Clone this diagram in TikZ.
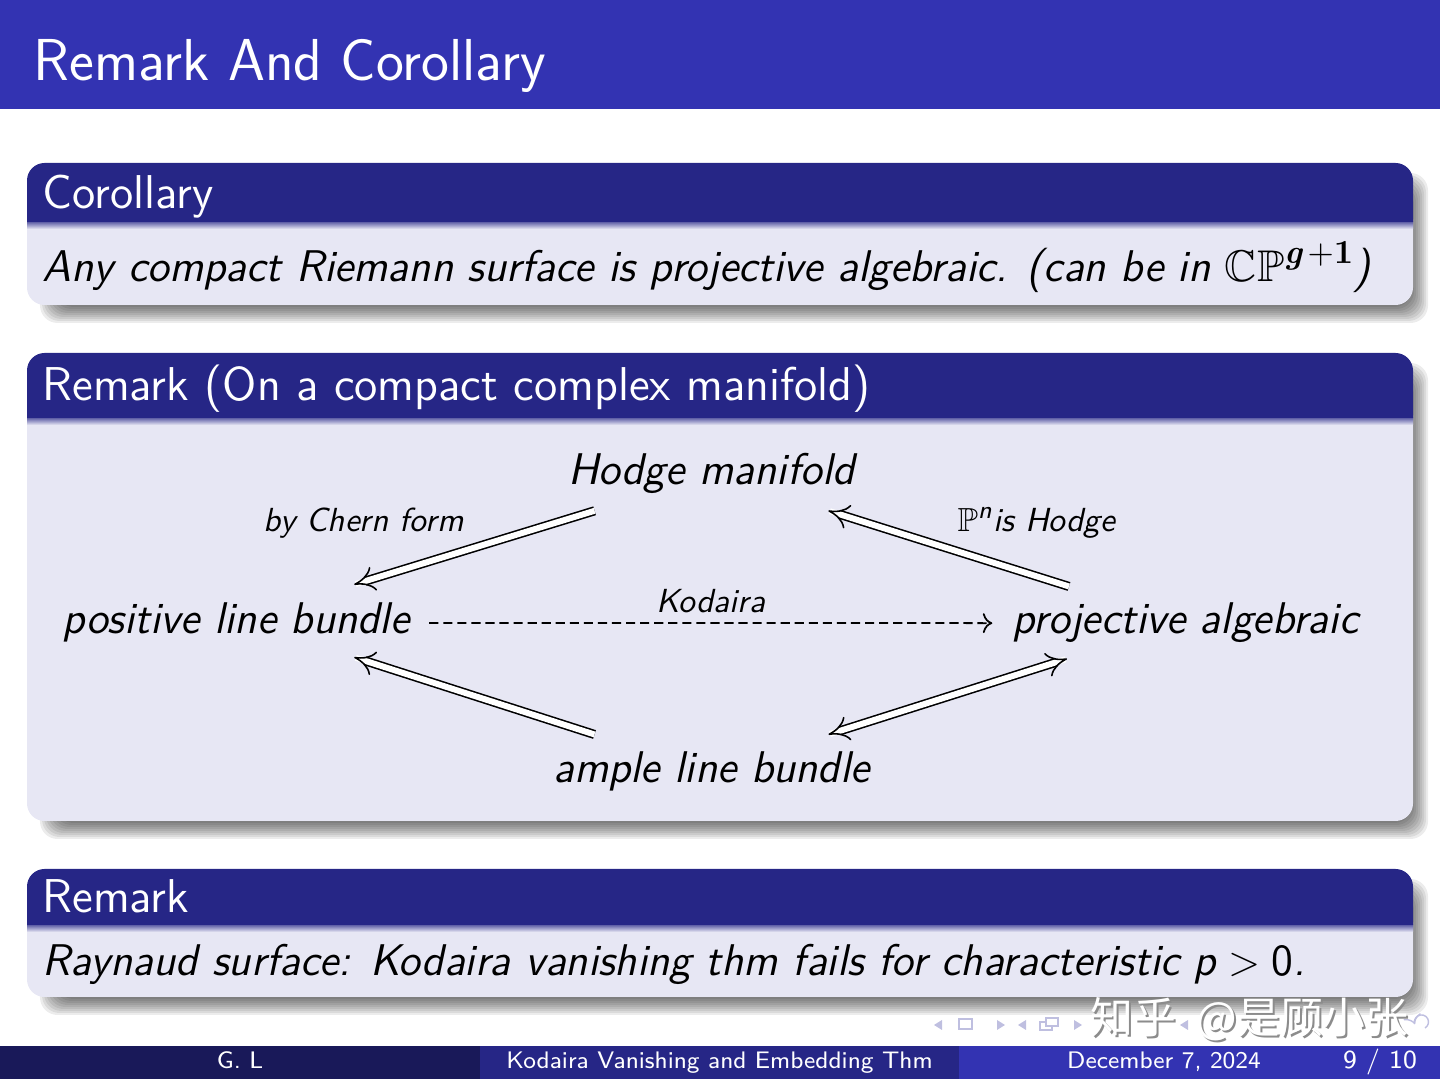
\documentclass[tikz,border=0pt]{standalone}
\usepackage{amssymb}
\usepackage{fontspec}
\newfontfamily\cjkfont{Noto Sans CJK SC}
\usetikzlibrary{arrows.meta,calc}

\definecolor{barblue}{rgb}{0.2,0.2,0.7}
\definecolor{headblue}{rgb}{0.15,0.15,0.525}
\definecolor{darkblue}{rgb}{0.1,0.1,0.35}
\definecolor{bodyblue}{rgb}{0.905,0.905,0.955}
\definecolor{navblue}{rgb}{0.75,0.75,0.88}

\tikzset{
  headtext/.style={anchor=base west, inner sep=0pt, text=white, font=\sffamily\fontsize{13.5}{16}\selectfont},
  bodytext/.style={anchor=base west, inner sep=0pt, font=\sffamily\itshape\fontsize{12.63}{15}\selectfont},
  cornertext/.style={bodytext, anchor=base},
  edgetext/.style={anchor=base west, inner sep=0pt, font=\sffamily\itshape\fontsize{9.5}{11}\selectfont},
  foottext/.style={anchor=base, inner sep=0pt, text=white, font=\sffamily\fontsize{6.8}{9}\selectfont},
  dblshaft/.style={double, double distance=1.7pt, line width=0.45pt, shorten >=3.2pt},
  dblhead/.style={white, line width=1.7pt, -{Computer Modern Rightarrow[black, length=5.8pt, width=7pt, line width=0.45pt]}},
  navmark/.style={navblue, line width=0.4pt},
}

\begin{document}
\begin{tikzpicture}

\useasboundingbox (0,0) rectangle (14.4,10.8);

% Title bar
\fill[barblue] (0,9.71) rectangle (14.4,10.8);
\node[headtext, font=\sffamily\fontsize{16.84}{20}\selectfont] (title) at (0.33,9.99) {Remark And Corollary};

% Blocks: shadow, body, head
\foreach \ytop/\ymid/\ybot in {9.17/8.58/7.75, 7.27/6.62/2.59, 2.11/1.55/0.83} {
  \foreach \blur in {0,0.02,...,0.18} {
    \fill[black, opacity=0.075, rounded corners=5pt]
      (0.40+\blur,\ybot-0.18+\blur) rectangle (14.28-\blur,\ytop-0.10-\blur);
  }
  \fill[bodyblue, rounded corners=5pt] (0.27,\ybot) rectangle (14.13,\ymid+0.2);
  \shade[top color=headblue!70!bodyblue, bottom color=bodyblue] (0.27,\ymid-0.07) rectangle (14.13,\ymid);
  \fill[headblue] (0.27,\ymid) [rounded corners=5pt] -- (0.27,\ytop) -- (14.13,\ytop) [sharp corners] -- (14.13,\ymid) -- cycle;
}

% Corollary
\node[headtext] (corhead) at (0.42,8.71) {Corollary};
\node[bodytext] (corbody) at (0.42,7.98) {Any compact Riemann surface is projective algebraic. (can be in $\mathbb{C}\mathbb{P}$\raisebox{5.2pt}{\rmfamily\fontsize{9.6}{10}\selectfont\bfseries g\,\mdseries\upshape+\bfseries 1})};

% Remark with diagram
\node[headtext] (remhead) at (0.42,6.79) {Remark (On a compact complex manifold)};
\node[cornertext] (hodge) at (7.115,5.95) {Hodge manifold};
\node[bodytext] (positive) at (0.62,4.46) {positive line bundle};
\node[bodytext] (projective) at (10.12,4.46) {projective algebraic};
\node[cornertext] (ample) at (7.115,2.97) {ample line bundle};

% Arrow ends
\coordinate (hodgeleft) at ([shift={(0.27,-0.16)}]hodge.south west);
\coordinate (hodgeright) at ([shift={(-0.27,-0.16)}]hodge.south east);
\coordinate (posup) at ([shift={(-0.56,0.18)}]positive.north east);
\coordinate (posdown) at ([shift={(-0.56,-0.14)}]positive.south east);
\coordinate (projup) at ([shift={(0.57,0.16)}]projective.north west);
\coordinate (projdown) at ([shift={(0.55,-0.15)}]projective.south west);
\coordinate (ampleleft) at ([shift={(0.42,0.17)}]ample.north west);
\coordinate (ampleright) at ([shift={(-0.42,0.17)}]ample.north east);

\draw[dblshaft] (hodgeleft) -- (posup);
\draw[dblshaft] (projup) -- (hodgeright);
\draw[dblshaft] (ampleleft) -- (posdown);
\draw[dblshaft, shorten <=3.2pt] (ampleright) -- (projdown);

\foreach \from/\to in {hodgeleft/posup, projup/hodgeright, ampleleft/posdown, ampleright/projdown, projdown/ampleright} {
  \draw[dblhead] ($(\to)!3.4pt!(\from)$) -- (\to);
}

\draw[line width=0.5pt, dash pattern=on 2.6pt off 1.4pt, -{To}] ([xshift=5.4pt]positive.east) -- ([xshift=-5.6pt]projective.west);

\node[edgetext] (chern) at (2.63,5.48) {by Chern form};
\node[edgetext] (pnhodge) at (9.57,5.48) {$\mathbb{P}^{\hbox{\sffamily\itshape\fontsize{7}{8}\selectfont n}}$is Hodge};
\node[edgetext] (kodaira) at (6.56,4.67) {Kodaira};

% Remark
\node[headtext] (rmkhead) at (0.42,1.67) {Remark};
\node[bodytext] (rmkbody) at (0.42,1.04) {Raynaud surface: Kodaira vanishing thm fails for characteristic p${}>{}$\textup{0}.};

% Navigation symbols
\fill[navmark] (9.34,0.55) -- (9.42,0.60) -- (9.42,0.50) -- cycle;
\draw[navmark] (9.59,0.51) rectangle (9.72,0.61);
\fill[navmark] (9.97,0.60) -- (9.97,0.50) -- (10.05,0.55) -- cycle;
\fill[navmark] (10.18,0.55) -- (10.26,0.60) -- (10.26,0.50) -- cycle;
\draw[navmark, fill=white] (10.40,0.50) rectangle (10.52,0.58);
\draw[navmark, fill=white] (10.46,0.54) rectangle (10.58,0.62);
\fill[navmark] (10.74,0.60) -- (10.74,0.50) -- (10.82,0.55) -- cycle;
\fill[navmark] (11.88,0.60) -- (11.88,0.50) -- (11.80,0.55) -- cycle;
\draw[navmark, ->] (14.25,0.52) arc (-60:200:0.07);

% Watermark
\node[anchor=base west, inner sep=0pt, text=gray!90, font=\cjkfont\fontsize{12.2}{14}\selectfont] (markshade) at (10.92,0.44) {知乎\hspace{3pt} @是顾小张};
\node[anchor=base west, inner sep=0pt, text=white, font=\cjkfont\fontsize{12.2}{14}\selectfont] (mark) at (10.90,0.46) {知乎\hspace{3pt} @是顾小张};

% Footer
\fill[darkblue] (0,0.01) rectangle (4.8,0.34);
\fill[headblue] (4.8,0.01) rectangle (9.59,0.34);
\fill[barblue] (9.59,0.01) rectangle (14.4,0.34);
\node[foottext] (author) at (2.40,0.11) {G. L};
\node[foottext] (talk) at (7.195,0.11) {Kodaira Vanishing and Embedding Thm};
\node[foottext] (date) at (11.64,0.11) {December 7, 2024};
\node[foottext, font=\sffamily\fontsize{7.4}{9}\selectfont] (page) at (13.80,0.11) {9 / 10};

\end{tikzpicture}
\end{document}
